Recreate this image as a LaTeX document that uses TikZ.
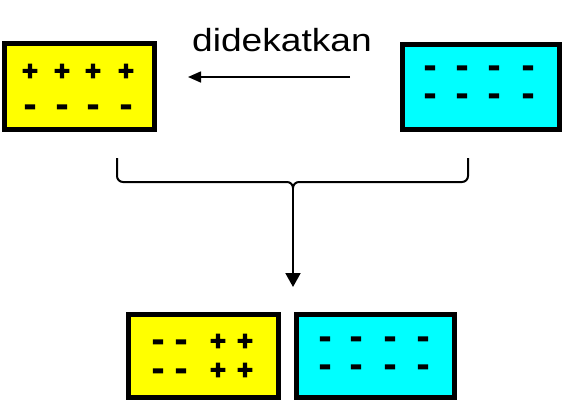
\documentclass[tikz,border=0pt]{standalone}
\usepackage{fontspec}
\setmainfont{Liberation Sans}
\newfontfamily\chgfont[FakeBold=4]{Liberation Sans Bold}
\usetikzlibrary{arrows.meta}
\definecolor{ylw}{RGB}{255,255,0}
\definecolor{cyn}{RGB}{0,255,255}
\tikzset{
  plate/.style={draw=black, line width=5pt, inner sep=0pt, outer sep=0pt},
  ybox/.style={plate, fill=ylw},
  cbox/.style={plate, fill=cyn},
  poschg/.style={inner sep=0pt, font=\fontsize{27}{27}\chgfont},
  negchg/.style={inner sep=0pt, font=\fontsize{31}{31}\chgfont, xscale=1.15},
  conn/.style={line width=1.6pt},
  lbl/.style={inner sep=0pt, font=\fontsize{32}{32}\selectfont, xscale=1.16}
}
\begin{document}
\begin{tikzpicture}[x=1pt,y=-1pt]
\useasboundingbox (0,0) rectangle (563,405);
% plates
\node[ybox, minimum width=150pt, minimum height=86pt] (A) at (79.5,86.5) {};
\node[cbox, minimum width=157pt, minimum height=85pt] (B) at (481,87) {};
\node[ybox, minimum width=150pt, minimum height=83pt] (C) at (203.5,356) {};
\node[cbox, minimum width=158pt, minimum height=83pt] (D) at (375.5,356) {};
% charges top yellow
\foreach \x [count=\i] in {30,62,93,126} {
  \node[poschg] (ap\i) at (\x,72) {+};
  \node[negchg] (an\i) at (\x,110) {-};
}
% charges top cyan
\foreach \x [count=\i] in {430,462,494,528} {
  \node[negchg] (bn\i) at (\x,71) {-};
  \node[negchg] (bm\i) at (\x,99) {-};
}
% bottom yellow
\foreach \x [count=\i] in {158,181} {
  \node[negchg] (cn\i) at (\x,345) {-};
  \node[negchg] (cm\i) at (\x,374) {-};
}
\foreach \x [count=\i] in {218,245} {
  \node[poschg] (cp\i) at (\x,342) {+};
  \node[poschg] (cq\i) at (\x,371) {+};
}
% bottom cyan
\foreach \x [count=\i] in {325,356,390,423} {
  \node[negchg] (dn\i) at (\x,342) {-};
  \node[negchg] (dm\i) at (\x,370) {-};
}
% label and arrow
\node[lbl] (L) at (282,40) {didekatkan};
\coordinate (as) at (350,77);
\coordinate (ae) at (188,77);
\draw[conn, -{Triangle[length=13pt,width=11pt]}] (as) -- (ae);
% brace
\coordinate (bl) at (117,158);
\coordinate (br) at (468,158);
\coordinate (bmid) at (293,188);
\coordinate (btip) at (293,287);
\draw[line width=2pt] (bl) -- ++(0,18) arc[start angle=180,end angle=270,radius=6pt] -- (287,182) arc[start angle=90,end angle=0,radius=6pt];
\draw[line width=2pt] (br) -- ++(0,18) arc[start angle=0,end angle=-90,radius=6pt] -- (299,182) arc[start angle=90,end angle=180,radius=6pt];
\draw[line width=2pt, -{Triangle[length=14pt,width=15pt]}] (bmid) -- (btip);
\end{tikzpicture}
\end{document}
